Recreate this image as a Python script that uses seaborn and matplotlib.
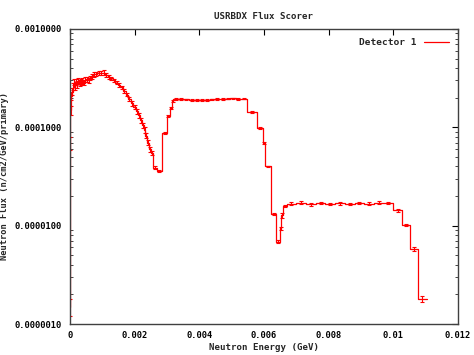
import numpy as np
import matplotlib
matplotlib.use("Agg")
import matplotlib.pyplot as plt
import seaborn as sns
from matplotlib.ticker import FixedLocator, FuncFormatter, LogLocator, NullFormatter

# bin low edges (GeV), flux per bin, relative error per bin
edges = [0.0, 0.000005, 0.000015, 0.00003, 0.00005, 0.00008, 0.00011, 0.00014, 0.00017, 0.0002,
         0.00024, 0.00028, 0.00032, 0.00036, 0.0004, 0.00045, 0.0005, 0.00055, 0.0006, 0.00066,
         0.00072, 0.00078, 0.00085, 0.00092, 0.001, 0.00108, 0.00116, 0.00124, 0.00132, 0.0014,
         0.00148, 0.00156, 0.00164, 0.00172, 0.0018, 0.00188, 0.00196, 0.00204, 0.0021, 0.00216,
         0.00222, 0.00228, 0.00233, 0.00238, 0.00243, 0.00249, 0.00257, 0.00268, 0.00285, 0.0030,
         0.00309, 0.00315, 0.0032, 0.00336, 0.00352, 0.00368, 0.00384, 0.004, 0.00416, 0.00432,
         0.00448, 0.00464, 0.0048, 0.00496, 0.00512, 0.00528, 0.00546, 0.00577, 0.00598, 0.00603,
         0.00622, 0.00638, 0.0065, 0.00653, 0.00659, 0.0067, 0.007, 0.0073, 0.0076, 0.0079,
         0.0082, 0.0085, 0.0088, 0.0091, 0.0094, 0.0097, 0.00999, 0.01027, 0.01052, 0.01076,
         0.01104]

flux = [1.5e-6, 7.0e-5, 1.5e-4, 2.1e-4, 2.3e-4, 2.6e-4, 2.9e-4, 2.6e-4, 2.9e-4, 2.75e-4,
        3.0e-4, 2.8e-4, 2.9e-4, 3.0e-4, 2.85e-4, 3.05e-4, 3.1e-4, 3.0e-4, 3.2e-4, 3.3e-4,
        3.45e-4, 3.5e-4, 3.6e-4, 3.55e-4, 3.6e-4, 3.4e-4, 3.25e-4, 3.15e-4, 3.0e-4, 2.85e-4,
        2.7e-4, 2.55e-4, 2.35e-4, 2.15e-4, 1.95e-4, 1.75e-4, 1.6e-4, 1.45e-4, 1.32e-4, 1.18e-4,
        1.05e-4, 9.4e-5, 8.2e-5, 7.0e-5, 6.0e-5, 5.5e-5, 3.9e-5, 3.6e-5, 8.8e-5, 1.3e-4,
        1.57e-4, 1.85e-4, 1.95e-4, 1.93e-4, 1.92e-4, 1.9e-4, 1.9e-4, 1.91e-4, 1.89e-4, 1.92e-4,
        1.93e-4, 1.95e-4, 1.96e-4, 1.97e-4, 1.95e-4, 1.96e-4, 1.43e-4, 9.9e-5, 6.9e-5, 4.0e-5,
        1.32e-5, 6.9e-6, 9.4e-6, 1.28e-5, 1.58e-5, 1.68e-5, 1.72e-5, 1.65e-5, 1.70e-5, 1.66e-5,
        1.69e-5, 1.66e-5, 1.70e-5, 1.68e-5, 1.72e-5, 1.70e-5, 1.43e-5, 1.02e-5, 5.8e-6, 1.8e-6]

rel_err = [0.2, 0.15, 0.1, 0.1, 0.08, 0.08, 0.08, 0.08, 0.08, 0.08,
           0.07, 0.07, 0.07, 0.07, 0.06, 0.06, 0.06, 0.06, 0.05, 0.05,
           0.05, 0.05, 0.05, 0.05, 0.06, 0.04, 0.04, 0.04, 0.04, 0.04,
           0.04, 0.04, 0.04, 0.04, 0.04, 0.05, 0.05, 0.05, 0.05, 0.06,
           0.06, 0.06, 0.06, 0.06, 0.06, 0.05, 0.03, 0.03, 0.02, 0.02,
           0.02, 0.02, 0.02, 0.02, 0.02, 0.02, 0.02, 0.02, 0.02, 0.02,
           0.02, 0.02, 0.02, 0.02, 0.02, 0.02, 0.02, 0.02, 0.02, 0.02,
           0.02, 0.04, 0.04, 0.06, 0.03, 0.03, 0.03, 0.03, 0.03, 0.03,
           0.03, 0.03, 0.03, 0.03, 0.03, 0.03, 0.03, 0.03, 0.04, 0.07]

x_ticks = [0, 0.002, 0.004, 0.006, 0.008, 0.01, 0.012]
x_tick_labels = ["0", "0.002", "0.004", "0.006", "0.008", "0.01", "0.012"]

assert len(edges) == len(flux) + 1 == len(rel_err) + 1

sns.set_style("white")
plt.rcParams["font.family"] = ["DejaVu Sans Mono"]
plt.rcParams["font.weight"] = "bold"
fs = 6.3

fig = plt.figure(figsize=(4.74, 3.55), dpi=100)
ax = fig.add_axes([70 / 474, 1 - 324 / 355, 388 / 474, 295 / 355])

edges_a = np.array(edges)
flux_a = np.array(flux)
step_y = np.append(flux_a, flux_a[-1])
sns.lineplot(x=edges_a, y=step_y, drawstyle="steps-post", color="#ff0000",
             linewidth=0.9, estimator=None, sort=False, ax=ax, label="Detector 1")

centers = 0.5 * (edges_a[:-1] + edges_a[1:])
ax.errorbar(centers, flux_a, yerr=flux_a * np.array(rel_err), fmt="none",
            ecolor="#ff0000", elinewidth=0.8, capsize=1.5, capthick=0.8)

ax.set_yscale("log")
ax.set_xlim(0, 0.012)
ax.set_ylim(1e-6, 1e-3)

ax.xaxis.set_major_locator(FixedLocator(x_ticks))
ax.set_xticklabels(x_tick_labels)
ax.yaxis.set_major_locator(LogLocator(base=10, numticks=10))
ax.yaxis.set_major_formatter(FuncFormatter(lambda v, p: f"{v:.7f}"))
ax.yaxis.set_minor_locator(LogLocator(base=10, subs=np.arange(2, 10), numticks=10))
ax.yaxis.set_minor_formatter(NullFormatter())

ax.tick_params(axis="both", which="major", direction="in", length=4, width=0.8,
               top=True, right=True, labelsize=fs, pad=5, colors="black")
ax.tick_params(axis="y", which="major", pad=6)
ax.tick_params(axis="y", which="minor", direction="in", length=2, width=0.6,
               left=True, right=True)
for s in ax.spines.values():
    s.set_color("#404040")
    s.set_linewidth(1.0)

ax.set_title("USRBDX Flux Scorer", fontsize=fs + 0.3, fontweight="bold", pad=7)
ax.set_xlabel("Neutron Energy (GeV)", fontsize=fs + 0.3, fontweight="bold", labelpad=2)
ax.set_ylabel("Neutron Flux (n/cm2/GeV/primary)", fontsize=fs, fontweight="bold")
ax.yaxis.set_label_coords((9 - 70) / 388, 0.5)

leg = ax.legend(loc="upper right", frameon=False, markerfirst=False, handlelength=2.6,
                fontsize=fs + 0.5, borderaxespad=0.6)

fig.savefig("out.png", dpi=100)
